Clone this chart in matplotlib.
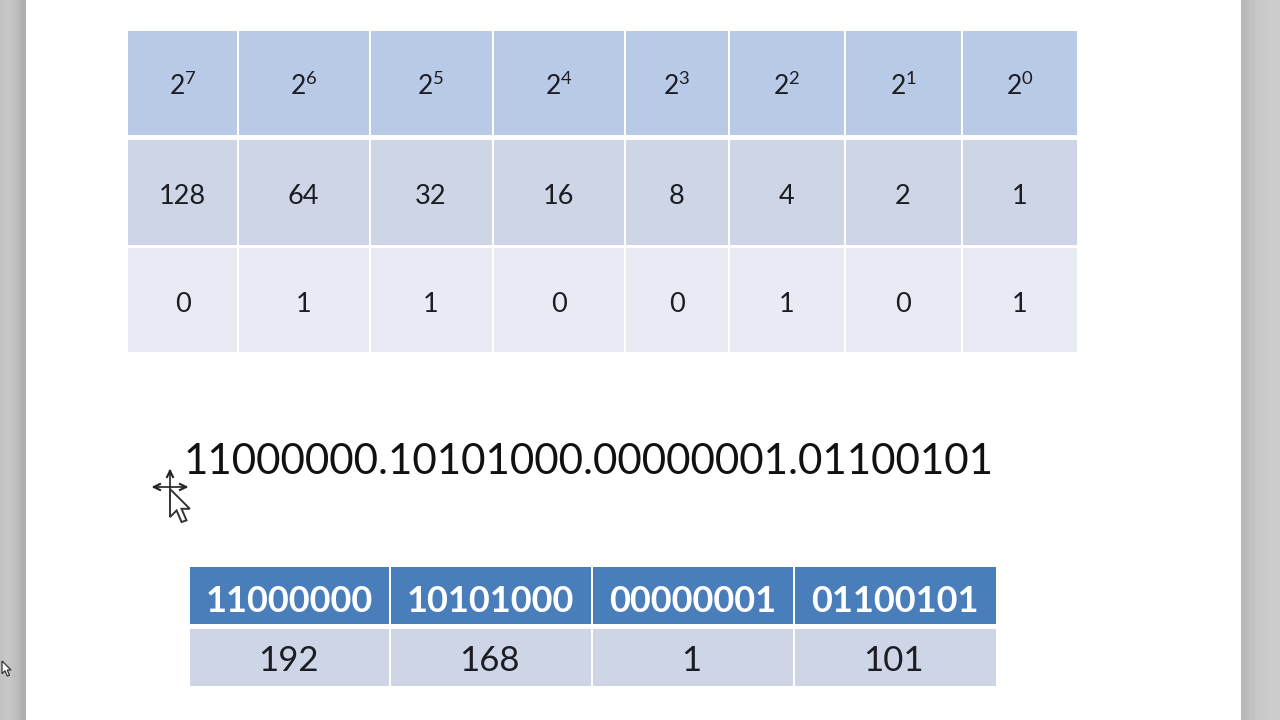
import matplotlib.pyplot as plt
from matplotlib.patches import Polygon, Rectangle
import numpy as np

plt.rcParams['font.family'] = ['Lato', 'DejaVu Sans']
plt.rcParams['mathtext.fontset'] = 'custom'
plt.rcParams['mathtext.rm'] = 'Lato'

powers = [7, 6, 5, 4, 3, 2, 1, 0]
weights = [128, 64, 32, 16, 8, 4, 2, 1]
bits = [0, 1, 1, 0, 0, 1, 0, 1]
address = '11000000.10101000.00000001.01100101'
octets = ['11000000', '10101000', '00000001', '01100101']
decimals = [192, 168, 1, 101]

col_edges = [128, 238, 370, 493, 625, 729, 845, 962, 1078]
row_edges = [(31, 135), (140, 245), (248, 352)]
row_colors = ['#b8cae5', '#cdd5e6', '#e8ebf3']
low_edges = [190, 390, 592, 794, 997]
low_rows = [(567, 624), (629, 686)]
text_color = '#1c1c24'

fig = plt.figure(figsize=(12.8, 7.2), dpi=100)
ax = fig.add_axes([0, 0, 1, 1])
ax.axis('off')


def sidebar(x0, x1, shades):
    ax.imshow(np.array([shades]), cmap='gray', vmin=0, vmax=1, aspect='auto',
              extent=(x0, x1, 720, 0), interpolation='bilinear', zorder=1)


# grey window edges either side of the page
sidebar(0, 26, [0.76, 0.78, 0.77, 0.75, 0.72, 0.68])
sidebar(1241, 1280, [0.72, 0.76, 0.78, 0.79, 0.80, 0.80])
ax.set_xlim(0, 1280)
ax.set_ylim(720, 0)


def cell(x0, x1, y0, y1, color):
    ax.add_patch(Rectangle((x0, y0), x1 - x0, y1 - y0, facecolor=color,
                           edgecolor='none', zorder=2))


# top table
for r, (y0, y1) in enumerate(row_edges):
    for c in range(len(powers)):
        cell(col_edges[c] + (1 if c else 0), col_edges[c + 1] - 1, y0, y1, row_colors[r])

for c in range(len(powers)):
    x = (col_edges[c] + col_edges[c + 1]) / 2 - 0.5
    ax.text(x, 86, '$\\mathregular{2^{%d}}$' % powers[c], fontsize=19, color=text_color,
            ha='center', va='center', zorder=3)
    ax.text(x, 196, str(weights[c]), fontsize=19.5, color=text_color, ha='center', va='center', zorder=3)
    ax.text(x, 304, str(bits[c]), fontsize=19.5, color=text_color, ha='center', va='center', zorder=3)

# dotted address
ax.text(588.5, 462, address, fontsize=30.3, color='#111111', ha='center', va='center', zorder=3)

# bottom table
for c in range(len(octets)):
    x0 = low_edges[c] + (1 if c else 0)
    x1 = low_edges[c + 1] - 1
    cell(x0, x1, low_rows[0][0], low_rows[0][1], '#4a7ebb')
    cell(x0, x1, low_rows[1][0], low_rows[1][1], '#cdd5e6')
    x = (low_edges[c] + low_edges[c + 1]) / 2
    ax.text(x - 0.5, 601, octets[c], fontsize=26, color='white', fontweight='bold', ha='center', va='center', zorder=3)
    ax.text(x - 2, 661, str(decimals[c]), fontsize=25, color=text_color, ha='center', va='center', zorder=3)

# mouse pointers from the screen recording
arrow = np.array([(0, 0), (0, 17), (4, 13), (7, 20), (10, 19), (7, 12), (12, 12)], dtype=float)
ax.add_patch(Polygon(arrow * 1.65 + (170, 489), closed=True, facecolor='white',
                     edgecolor='#333333', linewidth=1.4, zorder=5))
ax.add_patch(Polygon(arrow * 0.75 + (2, 661), closed=True, facecolor='white',
                     edgecolor='#333333', linewidth=0.9, zorder=5))
ax.plot([155, 185], [487, 487], color='#222222', lw=1.2, zorder=4)
ax.plot([170, 170], [473, 500], color='#222222', lw=1.2, zorder=4)
for tip, base in [((154, 487), (160, 484)), ((154, 487), (160, 490)), ((186, 487), (180, 484)),
                  ((186, 487), (180, 490)), ((170, 471), (167, 477)), ((170, 471), (173, 477))]:
    ax.plot([tip[0], base[0]], [tip[1], base[1]], color='#222222', lw=1.5, zorder=4)

fig.savefig('out.png', dpi=100, facecolor='white')
plt.close()
